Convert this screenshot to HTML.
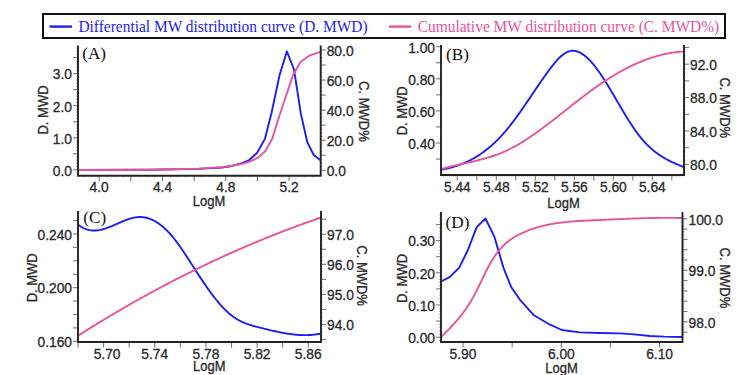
<!DOCTYPE html>
<html><head><meta charset="utf-8"><style>
html,body{margin:0;padding:0;background:#fff;overflow:hidden;}
svg{display:block;}
</style></head><body>
<svg width="750" height="375" viewBox="0 0 750 375">
<rect width="750" height="375" fill="#fff"/>
<clipPath id="c7845"><rect x="78" y="41.5" width="242.7" height="134.2"/></clipPath>
<g clip-path="url(#c7845)" fill="none" stroke-width="1.9" stroke-linejoin="round" stroke-linecap="round">
<path d="M76.00,170.00 L150.00,169.70 L198.00,168.90 L222.00,167.50 L230.00,166.30 L242.00,163.10 L249.20,160.00 L257.20,152.80 L264.90,138.90 L271.50,113.00 L279.60,75.00 L286.90,51.40 L294.00,69.50 L300.90,113.90 L307.30,142.20 L313.70,155.00 L320.50,160.20 L323.00,161.00" stroke="#1d1df4"/>
<path d="M76.00,170.00 L150.00,169.70 L174.00,169.30 L198.00,168.60 L214.00,167.60 L222.00,167.00 L230.00,166.20 L240.00,164.30 L249.20,161.90 L258.00,157.60 L265.20,151.20 L272.40,138.40 L278.00,120.00 L285.60,97.30 L293.10,74.90 L300.50,62.10 L309.10,55.70 L323.00,51.20" stroke="#e8539e"/>
</g>
<g stroke="#7a7a7a" stroke-width="1.1">
<line x1="73" y1="169.80" x2="78" y2="169.80"/>
<line x1="73" y1="137.75" x2="78" y2="137.75"/>
<line x1="73" y1="105.70" x2="78" y2="105.70"/>
<line x1="73" y1="73.65" x2="78" y2="73.65"/>
<line x1="73" y1="153.78" x2="78" y2="153.78"/>
<line x1="73" y1="121.73" x2="78" y2="121.73"/>
<line x1="73" y1="89.68" x2="78" y2="89.68"/>
<line x1="73" y1="57.63" x2="78" y2="57.63"/>
<line x1="320.7" y1="170.30" x2="325.7" y2="170.30"/>
<line x1="320.7" y1="140.22" x2="325.7" y2="140.22"/>
<line x1="320.7" y1="110.14" x2="325.7" y2="110.14"/>
<line x1="320.7" y1="80.06" x2="325.7" y2="80.06"/>
<line x1="320.7" y1="49.98" x2="325.7" y2="49.98"/>
<line x1="320.7" y1="155.26" x2="325.7" y2="155.26"/>
<line x1="320.7" y1="125.18" x2="325.7" y2="125.18"/>
<line x1="320.7" y1="95.10" x2="325.7" y2="95.10"/>
<line x1="320.7" y1="65.02" x2="325.7" y2="65.02"/>
<line x1="99.20" y1="175.7" x2="99.20" y2="181.29999999999998"/>
<line x1="162.50" y1="175.7" x2="162.50" y2="181.29999999999998"/>
<line x1="225.80" y1="175.7" x2="225.80" y2="181.29999999999998"/>
<line x1="289.10" y1="175.7" x2="289.10" y2="181.29999999999998"/>
<line x1="130.85" y1="175.7" x2="130.85" y2="181.29999999999998"/>
<line x1="194.15" y1="175.7" x2="194.15" y2="181.29999999999998"/>
<line x1="257.45" y1="175.7" x2="257.45" y2="181.29999999999998"/>
</g>
<g stroke="#b0b0b0" stroke-width="1">
<line x1="320.7" y1="174.06" x2="322.5" y2="174.06"/>
<line x1="320.7" y1="166.54" x2="322.5" y2="166.54"/>
<line x1="320.7" y1="162.78" x2="322.5" y2="162.78"/>
<line x1="320.7" y1="159.02" x2="322.5" y2="159.02"/>
<line x1="320.7" y1="151.50" x2="322.5" y2="151.50"/>
<line x1="320.7" y1="147.74" x2="322.5" y2="147.74"/>
<line x1="320.7" y1="143.98" x2="322.5" y2="143.98"/>
<line x1="320.7" y1="136.46" x2="322.5" y2="136.46"/>
<line x1="320.7" y1="132.70" x2="322.5" y2="132.70"/>
<line x1="320.7" y1="128.94" x2="322.5" y2="128.94"/>
<line x1="320.7" y1="121.42" x2="322.5" y2="121.42"/>
<line x1="320.7" y1="117.66" x2="322.5" y2="117.66"/>
<line x1="320.7" y1="113.90" x2="322.5" y2="113.90"/>
<line x1="320.7" y1="106.38" x2="322.5" y2="106.38"/>
<line x1="320.7" y1="102.62" x2="322.5" y2="102.62"/>
<line x1="320.7" y1="98.86" x2="322.5" y2="98.86"/>
<line x1="320.7" y1="91.34" x2="322.5" y2="91.34"/>
<line x1="320.7" y1="87.58" x2="322.5" y2="87.58"/>
<line x1="320.7" y1="83.82" x2="322.5" y2="83.82"/>
<line x1="320.7" y1="76.30" x2="322.5" y2="76.30"/>
<line x1="320.7" y1="72.54" x2="322.5" y2="72.54"/>
<line x1="320.7" y1="68.78" x2="322.5" y2="68.78"/>
<line x1="320.7" y1="61.26" x2="322.5" y2="61.26"/>
<line x1="320.7" y1="57.50" x2="322.5" y2="57.50"/>
<line x1="320.7" y1="53.74" x2="322.5" y2="53.74"/>
<line x1="76" y1="173.01" x2="78" y2="173.01"/>
<line x1="76" y1="166.59" x2="78" y2="166.59"/>
<line x1="76" y1="163.39" x2="78" y2="163.39"/>
<line x1="76" y1="160.19" x2="78" y2="160.19"/>
<line x1="76" y1="156.98" x2="78" y2="156.98"/>
<line x1="76" y1="150.57" x2="78" y2="150.57"/>
<line x1="76" y1="147.37" x2="78" y2="147.37"/>
<line x1="76" y1="144.16" x2="78" y2="144.16"/>
<line x1="76" y1="140.96" x2="78" y2="140.96"/>
<line x1="76" y1="134.55" x2="78" y2="134.55"/>
<line x1="76" y1="131.34" x2="78" y2="131.34"/>
<line x1="76" y1="128.14" x2="78" y2="128.14"/>
<line x1="76" y1="124.93" x2="78" y2="124.93"/>
<line x1="76" y1="118.52" x2="78" y2="118.52"/>
<line x1="76" y1="115.32" x2="78" y2="115.32"/>
<line x1="76" y1="112.11" x2="78" y2="112.11"/>
<line x1="76" y1="108.91" x2="78" y2="108.91"/>
<line x1="76" y1="102.50" x2="78" y2="102.50"/>
<line x1="76" y1="99.29" x2="78" y2="99.29"/>
<line x1="76" y1="96.09" x2="78" y2="96.09"/>
<line x1="76" y1="92.88" x2="78" y2="92.88"/>
<line x1="76" y1="86.47" x2="78" y2="86.47"/>
<line x1="76" y1="83.27" x2="78" y2="83.27"/>
<line x1="76" y1="80.06" x2="78" y2="80.06"/>
<line x1="76" y1="76.86" x2="78" y2="76.86"/>
<line x1="76" y1="70.45" x2="78" y2="70.45"/>
<line x1="76" y1="67.24" x2="78" y2="67.24"/>
<line x1="76" y1="64.04" x2="78" y2="64.04"/>
<line x1="76" y1="60.83" x2="78" y2="60.83"/>
<line x1="76" y1="54.42" x2="78" y2="54.42"/>
<line x1="76" y1="51.22" x2="78" y2="51.22"/>
<line x1="76" y1="48.01" x2="78" y2="48.01"/>
<line x1="83.37" y1="175.7" x2="83.37" y2="177.5"/>
<line x1="91.29" y1="175.7" x2="91.29" y2="177.5"/>
<line x1="107.11" y1="175.7" x2="107.11" y2="177.5"/>
<line x1="115.02" y1="175.7" x2="115.02" y2="177.5"/>
<line x1="122.94" y1="175.7" x2="122.94" y2="177.5"/>
<line x1="138.76" y1="175.7" x2="138.76" y2="177.5"/>
<line x1="146.67" y1="175.7" x2="146.67" y2="177.5"/>
<line x1="154.59" y1="175.7" x2="154.59" y2="177.5"/>
<line x1="170.41" y1="175.7" x2="170.41" y2="177.5"/>
<line x1="178.32" y1="175.7" x2="178.32" y2="177.5"/>
<line x1="186.24" y1="175.7" x2="186.24" y2="177.5"/>
<line x1="202.06" y1="175.7" x2="202.06" y2="177.5"/>
<line x1="209.98" y1="175.7" x2="209.98" y2="177.5"/>
<line x1="217.89" y1="175.7" x2="217.89" y2="177.5"/>
<line x1="233.71" y1="175.7" x2="233.71" y2="177.5"/>
<line x1="241.63" y1="175.7" x2="241.63" y2="177.5"/>
<line x1="249.54" y1="175.7" x2="249.54" y2="177.5"/>
<line x1="265.36" y1="175.7" x2="265.36" y2="177.5"/>
<line x1="273.27" y1="175.7" x2="273.27" y2="177.5"/>
<line x1="281.19" y1="175.7" x2="281.19" y2="177.5"/>
<line x1="297.01" y1="175.7" x2="297.01" y2="177.5"/>
<line x1="304.93" y1="175.7" x2="304.93" y2="177.5"/>
<line x1="312.84" y1="175.7" x2="312.84" y2="177.5"/>
</g>
<path d="M78,45.5 L78,175.7 L320.7,175.7 L320.7,45.5" fill="none" stroke="#232323" stroke-width="1.9" stroke-linejoin="miter"/>
<text transform="translate(72.00,175.60)" text-anchor="end" font-family="'Liberation Sans', sans-serif" font-size="13.8" fill="#2b2b2b" stroke="#2b2b2b" stroke-width="0.3">0.0</text>
<text transform="translate(72.00,143.55)" text-anchor="end" font-family="'Liberation Sans', sans-serif" font-size="13.8" fill="#2b2b2b" stroke="#2b2b2b" stroke-width="0.3">1.0</text>
<text transform="translate(72.00,111.50)" text-anchor="end" font-family="'Liberation Sans', sans-serif" font-size="13.8" fill="#2b2b2b" stroke="#2b2b2b" stroke-width="0.3">2.0</text>
<text transform="translate(72.00,79.45)" text-anchor="end" font-family="'Liberation Sans', sans-serif" font-size="13.8" fill="#2b2b2b" stroke="#2b2b2b" stroke-width="0.3">3.0</text>
<text transform="translate(326.70,176.10)" text-anchor="start" font-family="'Liberation Sans', sans-serif" font-size="13.8" fill="#2b2b2b" stroke="#2b2b2b" stroke-width="0.3">0.0</text>
<text transform="translate(326.70,146.02)" text-anchor="start" font-family="'Liberation Sans', sans-serif" font-size="13.8" fill="#2b2b2b" stroke="#2b2b2b" stroke-width="0.3">20.0</text>
<text transform="translate(326.70,115.94)" text-anchor="start" font-family="'Liberation Sans', sans-serif" font-size="13.8" fill="#2b2b2b" stroke="#2b2b2b" stroke-width="0.3">40.0</text>
<text transform="translate(326.70,85.86)" text-anchor="start" font-family="'Liberation Sans', sans-serif" font-size="13.8" fill="#2b2b2b" stroke="#2b2b2b" stroke-width="0.3">60.0</text>
<text transform="translate(326.70,55.78)" text-anchor="start" font-family="'Liberation Sans', sans-serif" font-size="13.8" fill="#2b2b2b" stroke="#2b2b2b" stroke-width="0.3">80.0</text>
<text transform="translate(99.20,192.30)" text-anchor="middle" font-family="'Liberation Sans', sans-serif" font-size="13.8" fill="#2b2b2b" stroke="#2b2b2b" stroke-width="0.3">4.0</text>
<text transform="translate(162.50,192.30)" text-anchor="middle" font-family="'Liberation Sans', sans-serif" font-size="13.8" fill="#2b2b2b" stroke="#2b2b2b" stroke-width="0.3">4.4</text>
<text transform="translate(225.80,192.30)" text-anchor="middle" font-family="'Liberation Sans', sans-serif" font-size="13.8" fill="#2b2b2b" stroke="#2b2b2b" stroke-width="0.3">4.8</text>
<text transform="translate(289.10,192.30)" text-anchor="middle" font-family="'Liberation Sans', sans-serif" font-size="13.8" fill="#2b2b2b" stroke="#2b2b2b" stroke-width="0.3">5.2</text>
<text transform="translate(47.50,110.00) rotate(-90) scale(1,1.12)" text-anchor="middle" font-family="'Liberation Sans', sans-serif" font-size="13.0" fill="#2b2b2b" stroke="#2b2b2b" stroke-width="0.3">D. MWD</text>
<text transform="translate(358.80,111.40) rotate(90) scale(1,1.12)" text-anchor="middle" font-family="'Liberation Sans', sans-serif" font-size="13.0" fill="#2b2b2b" stroke="#2b2b2b" stroke-width="0.3">C. MWD%</text>
<text transform="translate(209.00,205.80) scale(1,1.12)" text-anchor="middle" font-family="'Liberation Sans', sans-serif" font-size="13.0" fill="#2b2b2b" stroke="#2b2b2b" stroke-width="0.3">LogM</text>
<text transform="translate(82.20,59.00)" text-anchor="start" font-family="'Liberation Serif', serif" font-size="17.2" fill="#111">(A)</text>
<clipPath id="c44145"><rect x="441" y="41" width="243" height="134"/></clipPath>
<g clip-path="url(#c44145)" fill="none" stroke-width="1.9" stroke-linejoin="round" stroke-linecap="round">
<path d="M439.00,169.97 L440.00,169.82 L441.00,169.66 L442.00,169.49 L443.00,169.31 L444.00,169.12 L445.00,168.92 L446.00,168.72 L447.00,168.50 L448.00,168.27 L449.00,168.04 L450.00,167.79 L451.00,167.53 L452.00,167.26 L453.00,166.98 L454.00,166.69 L455.00,166.39 L456.00,166.07 L457.00,165.75 L458.00,165.41 L459.00,165.06 L460.00,164.69 L461.00,164.32 L462.00,163.93 L463.00,163.52 L464.00,163.11 L465.00,162.68 L466.00,162.23 L467.00,161.77 L468.00,161.30 L469.00,160.81 L470.00,160.31 L471.00,159.80 L472.00,159.26 L473.00,158.72 L474.00,158.15 L475.00,157.57 L476.00,156.98 L477.00,156.37 L478.00,155.74 L479.00,155.10 L480.00,154.44 L481.00,153.76 L482.00,153.06 L483.00,152.35 L484.00,151.62 L485.00,150.87 L486.00,150.10 L487.00,149.32 L488.00,148.52 L489.00,147.69 L490.00,146.85 L491.00,145.99 L492.00,145.11 L493.00,144.21 L494.00,143.29 L495.00,142.35 L496.00,141.39 L497.00,140.41 L498.00,139.41 L499.00,138.39 L500.00,137.35 L501.00,136.28 L502.00,135.20 L503.00,134.09 L504.00,132.96 L505.00,131.81 L506.00,130.63 L507.00,129.44 L508.00,128.22 L509.00,126.98 L510.00,125.72 L511.00,124.44 L512.00,123.14 L513.00,121.83 L514.00,120.50 L515.00,119.15 L516.00,117.79 L517.00,116.42 L518.00,115.03 L519.00,113.63 L520.00,112.22 L521.00,110.80 L522.00,109.37 L523.00,107.93 L524.00,106.48 L525.00,105.02 L526.00,103.56 L527.00,102.10 L528.00,100.63 L529.00,99.15 L530.00,97.67 L531.00,96.20 L532.00,94.72 L533.00,93.24 L534.00,91.76 L535.00,90.28 L536.00,88.81 L537.00,87.34 L538.00,85.87 L539.00,84.41 L540.00,82.96 L541.00,81.51 L542.00,80.07 L543.00,78.64 L544.00,77.22 L545.00,75.80 L546.00,74.40 L547.00,73.02 L548.00,71.64 L549.00,70.28 L550.00,68.93 L551.00,67.61 L552.00,66.31 L553.00,65.03 L554.00,63.79 L555.00,62.58 L556.00,61.40 L557.00,60.28 L558.00,59.20 L559.00,58.16 L560.00,57.19 L561.00,56.27 L562.00,55.41 L563.00,54.62 L564.00,53.90 L565.00,53.25 L566.00,52.68 L567.00,52.17 L568.00,51.74 L569.00,51.39 L570.00,51.12 L571.00,50.92 L572.00,50.81 L573.00,50.78 L574.00,50.82 L575.00,50.94 L576.00,51.13 L577.00,51.39 L578.00,51.73 L579.00,52.13 L580.00,52.60 L581.00,53.13 L582.00,53.73 L583.00,54.39 L584.00,55.11 L585.00,55.89 L586.00,56.72 L587.00,57.61 L588.00,58.55 L589.00,59.54 L590.00,60.58 L591.00,61.67 L592.00,62.80 L593.00,63.98 L594.00,65.20 L595.00,66.46 L596.00,67.76 L597.00,69.10 L598.00,70.47 L599.00,71.88 L600.00,73.31 L601.00,74.78 L602.00,76.28 L603.00,77.80 L604.00,79.35 L605.00,80.91 L606.00,82.51 L607.00,84.12 L608.00,85.74 L609.00,87.39 L610.00,89.05 L611.00,90.72 L612.00,92.40 L613.00,94.09 L614.00,95.78 L615.00,97.49 L616.00,99.19 L617.00,100.90 L618.00,102.61 L619.00,104.32 L620.00,106.02 L621.00,107.72 L622.00,109.41 L623.00,111.10 L624.00,112.77 L625.00,114.43 L626.00,116.08 L627.00,117.71 L628.00,119.32 L629.00,120.92 L630.00,122.49 L631.00,124.04 L632.00,125.57 L633.00,127.07 L634.00,128.55 L635.00,129.99 L636.00,131.40 L637.00,132.78 L638.00,134.13 L639.00,135.43 L640.00,136.70 L641.00,137.94 L642.00,139.13 L643.00,140.29 L644.00,141.42 L645.00,142.51 L646.00,143.57 L647.00,144.59 L648.00,145.58 L649.00,146.55 L650.00,147.48 L651.00,148.38 L652.00,149.25 L653.00,150.10 L654.00,150.92 L655.00,151.71 L656.00,152.48 L657.00,153.23 L658.00,153.95 L659.00,154.65 L660.00,155.32 L661.00,155.98 L662.00,156.61 L663.00,157.23 L664.00,157.82 L665.00,158.40 L666.00,158.97 L667.00,159.51 L668.00,160.04 L669.00,160.56 L670.00,161.06 L671.00,161.56 L672.00,162.03 L673.00,162.50 L674.00,162.96 L675.00,163.41 L676.00,163.84 L677.00,164.28 L678.00,164.70 L679.00,165.12 L680.00,165.53 L681.00,165.94 L682.00,166.34 L683.00,166.75 L684.00,167.15 L685.00,167.54 L686.00,167.94" stroke="#1d1df4"/>
<path d="M439.00,169.81 L440.50,169.35 L442.00,168.91 L443.50,168.47 L445.00,168.06 L446.50,167.65 L448.00,167.26 L449.50,166.88 L451.00,166.50 L452.50,166.14 L454.00,165.78 L455.50,165.43 L457.00,165.08 L458.50,164.74 L460.00,164.41 L461.50,164.07 L463.00,163.74 L464.50,163.41 L466.00,163.07 L467.50,162.74 L469.00,162.40 L470.50,162.07 L472.00,161.72 L473.50,161.38 L475.00,161.02 L476.50,160.66 L478.00,160.29 L479.50,159.92 L481.00,159.53 L482.50,159.14 L484.00,158.73 L485.50,158.31 L487.00,157.88 L488.50,157.43 L490.00,156.97 L491.50,156.50 L493.00,156.00 L494.50,155.49 L496.00,154.97 L497.50,154.42 L499.00,153.85 L500.50,153.26 L502.00,152.65 L503.50,152.01 L505.00,151.36 L506.50,150.67 L508.00,149.97 L509.50,149.23 L511.00,148.48 L512.50,147.70 L514.00,146.90 L515.50,146.07 L517.00,145.23 L518.50,144.36 L520.00,143.48 L521.50,142.57 L523.00,141.65 L524.50,140.71 L526.00,139.75 L527.50,138.77 L529.00,137.78 L530.50,136.77 L532.00,135.75 L533.50,134.71 L535.00,133.66 L536.50,132.60 L538.00,131.52 L539.50,130.43 L541.00,129.33 L542.50,128.23 L544.00,127.11 L545.50,125.98 L547.00,124.84 L548.50,123.70 L550.00,122.55 L551.50,121.39 L553.00,120.23 L554.50,119.06 L556.00,117.88 L557.50,116.70 L559.00,115.52 L560.50,114.34 L562.00,113.15 L563.50,111.97 L565.00,110.78 L566.50,109.59 L568.00,108.40 L569.50,107.21 L571.00,106.03 L572.50,104.85 L574.00,103.67 L575.50,102.49 L577.00,101.32 L578.50,100.15 L580.00,98.99 L581.50,97.83 L583.00,96.69 L584.50,95.54 L586.00,94.41 L587.50,93.29 L589.00,92.17 L590.50,91.07 L592.00,89.97 L593.50,88.89 L595.00,87.82 L596.50,86.76 L598.00,85.72 L599.50,84.68 L601.00,83.66 L602.50,82.65 L604.00,81.65 L605.50,80.67 L607.00,79.70 L608.50,78.74 L610.00,77.80 L611.50,76.87 L613.00,75.95 L614.50,75.05 L616.00,74.16 L617.50,73.29 L619.00,72.43 L620.50,71.59 L622.00,70.76 L623.50,69.94 L625.00,69.14 L626.50,68.36 L628.00,67.59 L629.50,66.84 L631.00,66.10 L632.50,65.38 L634.00,64.67 L635.50,63.99 L637.00,63.31 L638.50,62.66 L640.00,62.02 L641.50,61.40 L643.00,60.80 L644.50,60.21 L646.00,59.64 L647.50,59.09 L649.00,58.55 L650.50,58.04 L652.00,57.54 L653.50,57.06 L655.00,56.60 L656.50,56.16 L658.00,55.74 L659.50,55.33 L661.00,54.95 L662.50,54.58 L664.00,54.24 L665.50,53.91 L667.00,53.60 L668.50,53.32 L670.00,53.05 L671.50,52.81 L673.00,52.58 L674.50,52.38 L676.00,52.19 L677.50,52.03 L679.00,51.89 L680.50,51.77 L682.00,51.67 L683.50,51.60 L685.00,51.54" stroke="#e8539e"/>
</g>
<g stroke="#7a7a7a" stroke-width="1.1">
<line x1="436" y1="143.00" x2="441" y2="143.00"/>
<line x1="436" y1="110.90" x2="441" y2="110.90"/>
<line x1="436" y1="78.80" x2="441" y2="78.80"/>
<line x1="436" y1="46.70" x2="441" y2="46.70"/>
<line x1="436" y1="159.05" x2="441" y2="159.05"/>
<line x1="436" y1="126.95" x2="441" y2="126.95"/>
<line x1="436" y1="94.85" x2="441" y2="94.85"/>
<line x1="436" y1="62.75" x2="441" y2="62.75"/>
<line x1="684" y1="164.40" x2="689" y2="164.40"/>
<line x1="684" y1="131.00" x2="689" y2="131.00"/>
<line x1="684" y1="97.60" x2="689" y2="97.60"/>
<line x1="684" y1="64.20" x2="689" y2="64.20"/>
<line x1="684" y1="147.70" x2="689" y2="147.70"/>
<line x1="684" y1="114.30" x2="689" y2="114.30"/>
<line x1="684" y1="80.90" x2="689" y2="80.90"/>
<line x1="684" y1="47.50" x2="689" y2="47.50"/>
<line x1="457.30" y1="175" x2="457.30" y2="180.6"/>
<line x1="496.30" y1="175" x2="496.30" y2="180.6"/>
<line x1="535.30" y1="175" x2="535.30" y2="180.6"/>
<line x1="574.30" y1="175" x2="574.30" y2="180.6"/>
<line x1="613.30" y1="175" x2="613.30" y2="180.6"/>
<line x1="652.30" y1="175" x2="652.30" y2="180.6"/>
<line x1="476.80" y1="175" x2="476.80" y2="180.6"/>
<line x1="515.80" y1="175" x2="515.80" y2="180.6"/>
<line x1="554.80" y1="175" x2="554.80" y2="180.6"/>
<line x1="593.80" y1="175" x2="593.80" y2="180.6"/>
<line x1="632.80" y1="175" x2="632.80" y2="180.6"/>
<line x1="671.80" y1="175" x2="671.80" y2="180.6"/>
</g>
<g stroke="#cfcfcf" stroke-width="1">
<line x1="684" y1="172.75" x2="686.0" y2="172.75"/>
<line x1="684" y1="168.58" x2="686.0" y2="168.58"/>
<line x1="684" y1="160.22" x2="686.0" y2="160.22"/>
<line x1="684" y1="156.05" x2="686.0" y2="156.05"/>
<line x1="684" y1="151.88" x2="686.0" y2="151.88"/>
<line x1="684" y1="143.53" x2="686.0" y2="143.53"/>
<line x1="684" y1="139.35" x2="686.0" y2="139.35"/>
<line x1="684" y1="135.18" x2="686.0" y2="135.18"/>
<line x1="684" y1="126.83" x2="686.0" y2="126.83"/>
<line x1="684" y1="122.65" x2="686.0" y2="122.65"/>
<line x1="684" y1="118.48" x2="686.0" y2="118.48"/>
<line x1="684" y1="110.12" x2="686.0" y2="110.12"/>
<line x1="684" y1="105.95" x2="686.0" y2="105.95"/>
<line x1="684" y1="101.78" x2="686.0" y2="101.78"/>
<line x1="684" y1="93.43" x2="686.0" y2="93.43"/>
<line x1="684" y1="89.25" x2="686.0" y2="89.25"/>
<line x1="684" y1="85.08" x2="686.0" y2="85.08"/>
<line x1="684" y1="76.73" x2="686.0" y2="76.73"/>
<line x1="684" y1="72.55" x2="686.0" y2="72.55"/>
<line x1="684" y1="68.38" x2="686.0" y2="68.38"/>
<line x1="684" y1="60.03" x2="686.0" y2="60.03"/>
<line x1="684" y1="55.85" x2="686.0" y2="55.85"/>
<line x1="684" y1="51.68" x2="686.0" y2="51.68"/>
<line x1="443.65" y1="175" x2="443.65" y2="177.0"/>
<line x1="445.60" y1="175" x2="445.60" y2="177.0"/>
<line x1="447.55" y1="175" x2="447.55" y2="177.0"/>
<line x1="449.50" y1="175" x2="449.50" y2="177.0"/>
<line x1="451.45" y1="175" x2="451.45" y2="177.0"/>
<line x1="453.40" y1="175" x2="453.40" y2="177.0"/>
<line x1="455.35" y1="175" x2="455.35" y2="177.0"/>
<line x1="459.25" y1="175" x2="459.25" y2="177.0"/>
<line x1="461.20" y1="175" x2="461.20" y2="177.0"/>
<line x1="463.15" y1="175" x2="463.15" y2="177.0"/>
<line x1="465.10" y1="175" x2="465.10" y2="177.0"/>
<line x1="467.05" y1="175" x2="467.05" y2="177.0"/>
<line x1="469.00" y1="175" x2="469.00" y2="177.0"/>
<line x1="470.95" y1="175" x2="470.95" y2="177.0"/>
<line x1="472.90" y1="175" x2="472.90" y2="177.0"/>
<line x1="474.85" y1="175" x2="474.85" y2="177.0"/>
<line x1="478.75" y1="175" x2="478.75" y2="177.0"/>
<line x1="480.70" y1="175" x2="480.70" y2="177.0"/>
<line x1="482.65" y1="175" x2="482.65" y2="177.0"/>
<line x1="484.60" y1="175" x2="484.60" y2="177.0"/>
<line x1="486.55" y1="175" x2="486.55" y2="177.0"/>
<line x1="488.50" y1="175" x2="488.50" y2="177.0"/>
<line x1="490.45" y1="175" x2="490.45" y2="177.0"/>
<line x1="492.40" y1="175" x2="492.40" y2="177.0"/>
<line x1="494.35" y1="175" x2="494.35" y2="177.0"/>
<line x1="498.25" y1="175" x2="498.25" y2="177.0"/>
<line x1="500.20" y1="175" x2="500.20" y2="177.0"/>
<line x1="502.15" y1="175" x2="502.15" y2="177.0"/>
<line x1="504.10" y1="175" x2="504.10" y2="177.0"/>
<line x1="506.05" y1="175" x2="506.05" y2="177.0"/>
<line x1="508.00" y1="175" x2="508.00" y2="177.0"/>
<line x1="509.95" y1="175" x2="509.95" y2="177.0"/>
<line x1="511.90" y1="175" x2="511.90" y2="177.0"/>
<line x1="513.85" y1="175" x2="513.85" y2="177.0"/>
<line x1="517.75" y1="175" x2="517.75" y2="177.0"/>
<line x1="519.70" y1="175" x2="519.70" y2="177.0"/>
<line x1="521.65" y1="175" x2="521.65" y2="177.0"/>
<line x1="523.60" y1="175" x2="523.60" y2="177.0"/>
<line x1="525.55" y1="175" x2="525.55" y2="177.0"/>
<line x1="527.50" y1="175" x2="527.50" y2="177.0"/>
<line x1="529.45" y1="175" x2="529.45" y2="177.0"/>
<line x1="531.40" y1="175" x2="531.40" y2="177.0"/>
<line x1="533.35" y1="175" x2="533.35" y2="177.0"/>
<line x1="537.25" y1="175" x2="537.25" y2="177.0"/>
<line x1="539.20" y1="175" x2="539.20" y2="177.0"/>
<line x1="541.15" y1="175" x2="541.15" y2="177.0"/>
<line x1="543.10" y1="175" x2="543.10" y2="177.0"/>
<line x1="545.05" y1="175" x2="545.05" y2="177.0"/>
<line x1="547.00" y1="175" x2="547.00" y2="177.0"/>
<line x1="548.95" y1="175" x2="548.95" y2="177.0"/>
<line x1="550.90" y1="175" x2="550.90" y2="177.0"/>
<line x1="552.85" y1="175" x2="552.85" y2="177.0"/>
<line x1="556.75" y1="175" x2="556.75" y2="177.0"/>
<line x1="558.70" y1="175" x2="558.70" y2="177.0"/>
<line x1="560.65" y1="175" x2="560.65" y2="177.0"/>
<line x1="562.60" y1="175" x2="562.60" y2="177.0"/>
<line x1="564.55" y1="175" x2="564.55" y2="177.0"/>
<line x1="566.50" y1="175" x2="566.50" y2="177.0"/>
<line x1="568.45" y1="175" x2="568.45" y2="177.0"/>
<line x1="570.40" y1="175" x2="570.40" y2="177.0"/>
<line x1="572.35" y1="175" x2="572.35" y2="177.0"/>
<line x1="576.25" y1="175" x2="576.25" y2="177.0"/>
<line x1="578.20" y1="175" x2="578.20" y2="177.0"/>
<line x1="580.15" y1="175" x2="580.15" y2="177.0"/>
<line x1="582.10" y1="175" x2="582.10" y2="177.0"/>
<line x1="584.05" y1="175" x2="584.05" y2="177.0"/>
<line x1="586.00" y1="175" x2="586.00" y2="177.0"/>
<line x1="587.95" y1="175" x2="587.95" y2="177.0"/>
<line x1="589.90" y1="175" x2="589.90" y2="177.0"/>
<line x1="591.85" y1="175" x2="591.85" y2="177.0"/>
<line x1="595.75" y1="175" x2="595.75" y2="177.0"/>
<line x1="597.70" y1="175" x2="597.70" y2="177.0"/>
<line x1="599.65" y1="175" x2="599.65" y2="177.0"/>
<line x1="601.60" y1="175" x2="601.60" y2="177.0"/>
<line x1="603.55" y1="175" x2="603.55" y2="177.0"/>
<line x1="605.50" y1="175" x2="605.50" y2="177.0"/>
<line x1="607.45" y1="175" x2="607.45" y2="177.0"/>
<line x1="609.40" y1="175" x2="609.40" y2="177.0"/>
<line x1="611.35" y1="175" x2="611.35" y2="177.0"/>
<line x1="615.25" y1="175" x2="615.25" y2="177.0"/>
<line x1="617.20" y1="175" x2="617.20" y2="177.0"/>
<line x1="619.15" y1="175" x2="619.15" y2="177.0"/>
<line x1="621.10" y1="175" x2="621.10" y2="177.0"/>
<line x1="623.05" y1="175" x2="623.05" y2="177.0"/>
<line x1="625.00" y1="175" x2="625.00" y2="177.0"/>
<line x1="626.95" y1="175" x2="626.95" y2="177.0"/>
<line x1="628.90" y1="175" x2="628.90" y2="177.0"/>
<line x1="630.85" y1="175" x2="630.85" y2="177.0"/>
<line x1="634.75" y1="175" x2="634.75" y2="177.0"/>
<line x1="636.70" y1="175" x2="636.70" y2="177.0"/>
<line x1="638.65" y1="175" x2="638.65" y2="177.0"/>
<line x1="640.60" y1="175" x2="640.60" y2="177.0"/>
<line x1="642.55" y1="175" x2="642.55" y2="177.0"/>
<line x1="644.50" y1="175" x2="644.50" y2="177.0"/>
<line x1="646.45" y1="175" x2="646.45" y2="177.0"/>
<line x1="648.40" y1="175" x2="648.40" y2="177.0"/>
<line x1="650.35" y1="175" x2="650.35" y2="177.0"/>
<line x1="654.25" y1="175" x2="654.25" y2="177.0"/>
<line x1="656.20" y1="175" x2="656.20" y2="177.0"/>
<line x1="658.15" y1="175" x2="658.15" y2="177.0"/>
<line x1="660.10" y1="175" x2="660.10" y2="177.0"/>
<line x1="662.05" y1="175" x2="662.05" y2="177.0"/>
<line x1="664.00" y1="175" x2="664.00" y2="177.0"/>
<line x1="665.95" y1="175" x2="665.95" y2="177.0"/>
<line x1="667.90" y1="175" x2="667.90" y2="177.0"/>
<line x1="669.85" y1="175" x2="669.85" y2="177.0"/>
<line x1="673.75" y1="175" x2="673.75" y2="177.0"/>
<line x1="675.70" y1="175" x2="675.70" y2="177.0"/>
<line x1="677.65" y1="175" x2="677.65" y2="177.0"/>
<line x1="679.60" y1="175" x2="679.60" y2="177.0"/>
<line x1="681.55" y1="175" x2="681.55" y2="177.0"/>
</g>
<path d="M441,45 L441,175 L684,175 L684,45" fill="none" stroke="#232323" stroke-width="1.9" stroke-linejoin="miter"/>
<text transform="translate(435.00,148.80)" text-anchor="end" font-family="'Liberation Sans', sans-serif" font-size="13.8" fill="#2b2b2b" stroke="#2b2b2b" stroke-width="0.3">0.40</text>
<text transform="translate(435.00,116.70)" text-anchor="end" font-family="'Liberation Sans', sans-serif" font-size="13.8" fill="#2b2b2b" stroke="#2b2b2b" stroke-width="0.3">0.60</text>
<text transform="translate(435.00,84.60)" text-anchor="end" font-family="'Liberation Sans', sans-serif" font-size="13.8" fill="#2b2b2b" stroke="#2b2b2b" stroke-width="0.3">0.80</text>
<text transform="translate(435.00,52.50)" text-anchor="end" font-family="'Liberation Sans', sans-serif" font-size="13.8" fill="#2b2b2b" stroke="#2b2b2b" stroke-width="0.3">1.00</text>
<text transform="translate(690.00,170.20)" text-anchor="start" font-family="'Liberation Sans', sans-serif" font-size="13.8" fill="#2b2b2b" stroke="#2b2b2b" stroke-width="0.3">80.0</text>
<text transform="translate(690.00,136.80)" text-anchor="start" font-family="'Liberation Sans', sans-serif" font-size="13.8" fill="#2b2b2b" stroke="#2b2b2b" stroke-width="0.3">84.0</text>
<text transform="translate(690.00,103.40)" text-anchor="start" font-family="'Liberation Sans', sans-serif" font-size="13.8" fill="#2b2b2b" stroke="#2b2b2b" stroke-width="0.3">88.0</text>
<text transform="translate(690.00,70.00)" text-anchor="start" font-family="'Liberation Sans', sans-serif" font-size="13.8" fill="#2b2b2b" stroke="#2b2b2b" stroke-width="0.3">92.0</text>
<text transform="translate(457.30,191.60)" text-anchor="middle" font-family="'Liberation Sans', sans-serif" font-size="13.8" fill="#2b2b2b" stroke="#2b2b2b" stroke-width="0.3">5.44</text>
<text transform="translate(496.30,191.60)" text-anchor="middle" font-family="'Liberation Sans', sans-serif" font-size="13.8" fill="#2b2b2b" stroke="#2b2b2b" stroke-width="0.3">5.48</text>
<text transform="translate(535.30,191.60)" text-anchor="middle" font-family="'Liberation Sans', sans-serif" font-size="13.8" fill="#2b2b2b" stroke="#2b2b2b" stroke-width="0.3">5.52</text>
<text transform="translate(574.30,191.60)" text-anchor="middle" font-family="'Liberation Sans', sans-serif" font-size="13.8" fill="#2b2b2b" stroke="#2b2b2b" stroke-width="0.3">5.56</text>
<text transform="translate(613.30,191.60)" text-anchor="middle" font-family="'Liberation Sans', sans-serif" font-size="13.8" fill="#2b2b2b" stroke="#2b2b2b" stroke-width="0.3">5.60</text>
<text transform="translate(652.30,191.60)" text-anchor="middle" font-family="'Liberation Sans', sans-serif" font-size="13.8" fill="#2b2b2b" stroke="#2b2b2b" stroke-width="0.3">5.64</text>
<text transform="translate(406.80,110.80) rotate(-90) scale(1,1.12)" text-anchor="middle" font-family="'Liberation Sans', sans-serif" font-size="13.0" fill="#2b2b2b" stroke="#2b2b2b" stroke-width="0.3">D. MWD</text>
<text transform="translate(719.70,107.80) rotate(90) scale(1,1.12)" text-anchor="middle" font-family="'Liberation Sans', sans-serif" font-size="13.0" fill="#2b2b2b" stroke="#2b2b2b" stroke-width="0.3">C. MWD%</text>
<text transform="translate(563.60,208.20) scale(1,1.12)" text-anchor="middle" font-family="'Liberation Sans', sans-serif" font-size="13.0" fill="#2b2b2b" stroke="#2b2b2b" stroke-width="0.3">LogM</text>
<text transform="translate(446.00,59.50)" text-anchor="start" font-family="'Liberation Serif', serif" font-size="17.2" fill="#111">(B)</text>
<clipPath id="c78211"><rect x="78" y="207" width="243" height="135"/></clipPath>
<g clip-path="url(#c78211)" fill="none" stroke-width="1.9" stroke-linejoin="round" stroke-linecap="round">
<path d="M76.00,222.63 L77.00,223.56 L78.00,224.41 L79.00,225.21 L80.00,225.94 L81.00,226.61 L82.00,227.22 L83.00,227.78 L84.00,228.28 L85.00,228.72 L86.00,229.11 L87.00,229.45 L88.00,229.74 L89.00,229.98 L90.00,230.18 L91.00,230.33 L92.00,230.43 L93.00,230.50 L94.00,230.52 L95.00,230.51 L96.00,230.46 L97.00,230.38 L98.00,230.26 L99.00,230.11 L100.00,229.93 L101.00,229.72 L102.00,229.49 L103.00,229.23 L104.00,228.94 L105.00,228.63 L106.00,228.31 L107.00,227.96 L108.00,227.60 L109.00,227.22 L110.00,226.83 L111.00,226.43 L112.00,226.01 L113.00,225.59 L114.00,225.16 L115.00,224.72 L116.00,224.28 L117.00,223.84 L118.00,223.40 L119.00,222.96 L120.00,222.53 L121.00,222.09 L122.00,221.67 L123.00,221.25 L124.00,220.85 L125.00,220.45 L126.00,220.07 L127.00,219.70 L128.00,219.35 L129.00,219.02 L130.00,218.70 L131.00,218.41 L132.00,218.14 L133.00,217.90 L134.00,217.69 L135.00,217.50 L136.00,217.34 L137.00,217.21 L138.00,217.12 L139.00,217.06 L140.00,217.04 L141.00,217.06 L142.00,217.12 L143.00,217.21 L144.00,217.34 L145.00,217.51 L146.00,217.71 L147.00,217.96 L148.00,218.24 L149.00,218.55 L150.00,218.91 L151.00,219.30 L152.00,219.73 L153.00,220.20 L154.00,220.70 L155.00,221.24 L156.00,221.82 L157.00,222.43 L158.00,223.08 L159.00,223.77 L160.00,224.50 L161.00,225.26 L162.00,226.06 L163.00,226.89 L164.00,227.76 L165.00,228.67 L166.00,229.62 L167.00,230.60 L168.00,231.62 L169.00,232.67 L170.00,233.76 L171.00,234.89 L172.00,236.05 L173.00,237.25 L174.00,238.48 L175.00,239.75 L176.00,241.05 L177.00,242.39 L178.00,243.75 L179.00,245.13 L180.00,246.55 L181.00,247.98 L182.00,249.44 L183.00,250.92 L184.00,252.41 L185.00,253.92 L186.00,255.44 L187.00,256.98 L188.00,258.52 L189.00,260.07 L190.00,261.63 L191.00,263.19 L192.00,264.76 L193.00,266.32 L194.00,267.88 L195.00,269.44 L196.00,270.99 L197.00,272.54 L198.00,274.08 L199.00,275.61 L200.00,277.13 L201.00,278.64 L202.00,280.14 L203.00,281.63 L204.00,283.10 L205.00,284.57 L206.00,286.01 L207.00,287.45 L208.00,288.86 L209.00,290.26 L210.00,291.64 L211.00,293.01 L212.00,294.35 L213.00,295.67 L214.00,296.97 L215.00,298.25 L216.00,299.51 L217.00,300.74 L218.00,301.95 L219.00,303.13 L220.00,304.29 L221.00,305.42 L222.00,306.52 L223.00,307.59 L224.00,308.63 L225.00,309.64 L226.00,310.62 L227.00,311.57 L228.00,312.48 L229.00,313.36 L230.00,314.20 L231.00,315.01 L232.00,315.79 L233.00,316.52 L234.00,317.23 L235.00,317.90 L236.00,318.55 L237.00,319.16 L238.00,319.74 L239.00,320.30 L240.00,320.83 L241.00,321.33 L242.00,321.82 L243.00,322.27 L244.00,322.71 L245.00,323.13 L246.00,323.53 L247.00,323.90 L248.00,324.27 L249.00,324.61 L250.00,324.94 L251.00,325.26 L252.00,325.57 L253.00,325.86 L254.00,326.14 L255.00,326.42 L256.00,326.69 L257.00,326.95 L258.00,327.20 L259.00,327.45 L260.00,327.70 L261.00,327.95 L262.00,328.19 L263.00,328.44 L264.00,328.68 L265.00,328.92 L266.00,329.17 L267.00,329.41 L268.00,329.65 L269.00,329.88 L270.00,330.12 L271.00,330.35 L272.00,330.58 L273.00,330.81 L274.00,331.04 L275.00,331.26 L276.00,331.48 L277.00,331.69 L278.00,331.90 L279.00,332.11 L280.00,332.31 L281.00,332.51 L282.00,332.70 L283.00,332.88 L284.00,333.07 L285.00,333.24 L286.00,333.41 L287.00,333.57 L288.00,333.73 L289.00,333.88 L290.00,334.02 L291.00,334.16 L292.00,334.28 L293.00,334.40 L294.00,334.51 L295.00,334.62 L296.00,334.71 L297.00,334.80 L298.00,334.88 L299.00,334.94 L300.00,335.00 L301.00,335.05 L302.00,335.09 L303.00,335.11 L304.00,335.13 L305.00,335.14 L306.00,335.13 L307.00,335.12 L308.00,335.09 L309.00,335.05 L310.00,335.00 L311.00,334.93 L312.00,334.86 L313.00,334.77 L314.00,334.67 L315.00,334.55 L316.00,334.42 L317.00,334.28 L318.00,334.12 L319.00,333.95 L320.00,333.76 L321.00,333.56 L322.00,333.34 L323.00,333.11" stroke="#1d1df4"/>
<path d="M76.00,336.94 L77.50,335.98 L79.00,335.03 L80.50,334.08 L82.00,333.14 L83.50,332.20 L85.00,331.26 L86.50,330.32 L88.00,329.38 L89.50,328.45 L91.00,327.52 L92.50,326.60 L94.00,325.67 L95.50,324.75 L97.00,323.83 L98.50,322.92 L100.00,322.01 L101.50,321.10 L103.00,320.19 L104.50,319.29 L106.00,318.39 L107.50,317.49 L109.00,316.59 L110.50,315.70 L112.00,314.81 L113.50,313.92 L115.00,313.04 L116.50,312.16 L118.00,311.28 L119.50,310.40 L121.00,309.53 L122.50,308.66 L124.00,307.79 L125.50,306.92 L127.00,306.06 L128.50,305.20 L130.00,304.34 L131.50,303.49 L133.00,302.64 L134.50,301.79 L136.00,300.95 L137.50,300.10 L139.00,299.26 L140.50,298.43 L142.00,297.59 L143.50,296.76 L145.00,295.93 L146.50,295.10 L148.00,294.28 L149.50,293.46 L151.00,292.64 L152.50,291.82 L154.00,291.01 L155.50,290.20 L157.00,289.40 L158.50,288.59 L160.00,287.79 L161.50,286.99 L163.00,286.19 L164.50,285.40 L166.00,284.61 L167.50,283.82 L169.00,283.04 L170.50,282.26 L172.00,281.48 L173.50,280.70 L175.00,279.92 L176.50,279.15 L178.00,278.38 L179.50,277.62 L181.00,276.86 L182.50,276.09 L184.00,275.34 L185.50,274.58 L187.00,273.83 L188.50,273.08 L190.00,272.33 L191.50,271.59 L193.00,270.85 L194.50,270.11 L196.00,269.37 L197.50,268.64 L199.00,267.91 L200.50,267.18 L202.00,266.46 L203.50,265.73 L205.00,265.02 L206.50,264.30 L208.00,263.58 L209.50,262.87 L211.00,262.16 L212.50,261.46 L214.00,260.76 L215.50,260.05 L217.00,259.36 L218.50,258.66 L220.00,257.97 L221.50,257.28 L223.00,256.59 L224.50,255.91 L226.00,255.23 L227.50,254.55 L229.00,253.87 L230.50,253.20 L232.00,252.53 L233.50,251.86 L235.00,251.19 L236.50,250.53 L238.00,249.87 L239.50,249.22 L241.00,248.56 L242.50,247.91 L244.00,247.26 L245.50,246.61 L247.00,245.97 L248.50,245.33 L250.00,244.69 L251.50,244.06 L253.00,243.42 L254.50,242.79 L256.00,242.16 L257.50,241.54 L259.00,240.92 L260.50,240.30 L262.00,239.68 L263.50,239.07 L265.00,238.46 L266.50,237.85 L268.00,237.24 L269.50,236.64 L271.00,236.04 L272.50,235.44 L274.00,234.84 L275.50,234.25 L277.00,233.66 L278.50,233.07 L280.00,232.49 L281.50,231.91 L283.00,231.33 L284.50,230.75 L286.00,230.18 L287.50,229.61 L289.00,229.04 L290.50,228.47 L292.00,227.91 L293.50,227.35 L295.00,226.79 L296.50,226.24 L298.00,225.68 L299.50,225.13 L301.00,224.59 L302.50,224.04 L304.00,223.50 L305.50,222.96 L307.00,222.42 L308.50,221.89 L310.00,221.36 L311.50,220.83 L313.00,220.30 L314.50,219.78 L316.00,219.26 L317.50,218.74 L319.00,218.23 L320.50,217.72 L322.00,217.21" stroke="#e8539e"/>
</g>
<g stroke="#7a7a7a" stroke-width="1.1">
<line x1="73" y1="341.30" x2="78" y2="341.30"/>
<line x1="73" y1="287.65" x2="78" y2="287.65"/>
<line x1="73" y1="234.00" x2="78" y2="234.00"/>
<line x1="73" y1="327.89" x2="78" y2="327.89"/>
<line x1="73" y1="314.48" x2="78" y2="314.48"/>
<line x1="73" y1="301.06" x2="78" y2="301.06"/>
<line x1="73" y1="274.24" x2="78" y2="274.24"/>
<line x1="73" y1="260.82" x2="78" y2="260.82"/>
<line x1="73" y1="247.41" x2="78" y2="247.41"/>
<line x1="73" y1="220.59" x2="78" y2="220.59"/>
<line x1="321" y1="324.50" x2="326" y2="324.50"/>
<line x1="321" y1="294.40" x2="326" y2="294.40"/>
<line x1="321" y1="264.30" x2="326" y2="264.30"/>
<line x1="321" y1="234.20" x2="326" y2="234.20"/>
<line x1="321" y1="339.55" x2="326" y2="339.55"/>
<line x1="321" y1="309.45" x2="326" y2="309.45"/>
<line x1="321" y1="279.35" x2="326" y2="279.35"/>
<line x1="321" y1="249.25" x2="326" y2="249.25"/>
<line x1="321" y1="219.15" x2="326" y2="219.15"/>
<line x1="103.60" y1="342" x2="103.60" y2="347.6"/>
<line x1="154.76" y1="342" x2="154.76" y2="347.6"/>
<line x1="205.92" y1="342" x2="205.92" y2="347.6"/>
<line x1="257.08" y1="342" x2="257.08" y2="347.6"/>
<line x1="308.24" y1="342" x2="308.24" y2="347.6"/>
<line x1="78.02" y1="342" x2="78.02" y2="347.6"/>
<line x1="129.18" y1="342" x2="129.18" y2="347.6"/>
<line x1="180.34" y1="342" x2="180.34" y2="347.6"/>
<line x1="231.50" y1="342" x2="231.50" y2="347.6"/>
<line x1="282.66" y1="342" x2="282.66" y2="347.6"/>
</g>
<g stroke="#b0b0b0" stroke-width="1">
<line x1="321" y1="335.79" x2="322.8" y2="335.79"/>
<line x1="321" y1="332.02" x2="322.8" y2="332.02"/>
<line x1="321" y1="328.26" x2="322.8" y2="328.26"/>
<line x1="321" y1="320.74" x2="322.8" y2="320.74"/>
<line x1="321" y1="316.98" x2="322.8" y2="316.98"/>
<line x1="321" y1="313.21" x2="322.8" y2="313.21"/>
<line x1="321" y1="305.69" x2="322.8" y2="305.69"/>
<line x1="321" y1="301.93" x2="322.8" y2="301.93"/>
<line x1="321" y1="298.16" x2="322.8" y2="298.16"/>
<line x1="321" y1="290.64" x2="322.8" y2="290.64"/>
<line x1="321" y1="286.88" x2="322.8" y2="286.88"/>
<line x1="321" y1="283.11" x2="322.8" y2="283.11"/>
<line x1="321" y1="275.59" x2="322.8" y2="275.59"/>
<line x1="321" y1="271.82" x2="322.8" y2="271.82"/>
<line x1="321" y1="268.06" x2="322.8" y2="268.06"/>
<line x1="321" y1="260.54" x2="322.8" y2="260.54"/>
<line x1="321" y1="256.77" x2="322.8" y2="256.77"/>
<line x1="321" y1="253.01" x2="322.8" y2="253.01"/>
<line x1="321" y1="245.49" x2="322.8" y2="245.49"/>
<line x1="321" y1="241.72" x2="322.8" y2="241.72"/>
<line x1="321" y1="237.96" x2="322.8" y2="237.96"/>
<line x1="321" y1="230.44" x2="322.8" y2="230.44"/>
<line x1="321" y1="226.67" x2="322.8" y2="226.67"/>
<line x1="321" y1="222.91" x2="322.8" y2="222.91"/>
</g>
<path d="M78,211 L78,342 L321,342 L321,211" fill="none" stroke="#232323" stroke-width="1.9" stroke-linejoin="miter"/>
<text transform="translate(72.00,347.10)" text-anchor="end" font-family="'Liberation Sans', sans-serif" font-size="13.8" fill="#2b2b2b" stroke="#2b2b2b" stroke-width="0.3">0.160</text>
<text transform="translate(72.00,293.45)" text-anchor="end" font-family="'Liberation Sans', sans-serif" font-size="13.8" fill="#2b2b2b" stroke="#2b2b2b" stroke-width="0.3">0.200</text>
<text transform="translate(72.00,239.80)" text-anchor="end" font-family="'Liberation Sans', sans-serif" font-size="13.8" fill="#2b2b2b" stroke="#2b2b2b" stroke-width="0.3">0.240</text>
<text transform="translate(327.00,330.30)" text-anchor="start" font-family="'Liberation Sans', sans-serif" font-size="13.8" fill="#2b2b2b" stroke="#2b2b2b" stroke-width="0.3">94.0</text>
<text transform="translate(327.00,300.20)" text-anchor="start" font-family="'Liberation Sans', sans-serif" font-size="13.8" fill="#2b2b2b" stroke="#2b2b2b" stroke-width="0.3">95.0</text>
<text transform="translate(327.00,270.10)" text-anchor="start" font-family="'Liberation Sans', sans-serif" font-size="13.8" fill="#2b2b2b" stroke="#2b2b2b" stroke-width="0.3">96.0</text>
<text transform="translate(327.00,240.00)" text-anchor="start" font-family="'Liberation Sans', sans-serif" font-size="13.8" fill="#2b2b2b" stroke="#2b2b2b" stroke-width="0.3">97.0</text>
<text transform="translate(107.10,358.60)" text-anchor="middle" font-family="'Liberation Sans', sans-serif" font-size="13.8" fill="#2b2b2b" stroke="#2b2b2b" stroke-width="0.3">5.70</text>
<text transform="translate(154.76,358.60)" text-anchor="middle" font-family="'Liberation Sans', sans-serif" font-size="13.8" fill="#2b2b2b" stroke="#2b2b2b" stroke-width="0.3">5.74</text>
<text transform="translate(205.92,358.60)" text-anchor="middle" font-family="'Liberation Sans', sans-serif" font-size="13.8" fill="#2b2b2b" stroke="#2b2b2b" stroke-width="0.3">5.78</text>
<text transform="translate(257.08,358.60)" text-anchor="middle" font-family="'Liberation Sans', sans-serif" font-size="13.8" fill="#2b2b2b" stroke="#2b2b2b" stroke-width="0.3">5.82</text>
<text transform="translate(308.24,358.60)" text-anchor="middle" font-family="'Liberation Sans', sans-serif" font-size="13.8" fill="#2b2b2b" stroke="#2b2b2b" stroke-width="0.3">5.86</text>
<text transform="translate(36.70,277.80) rotate(-90) scale(1,1.12)" text-anchor="middle" font-family="'Liberation Sans', sans-serif" font-size="13.0" fill="#2b2b2b" stroke="#2b2b2b" stroke-width="0.3">D. MWD</text>
<text transform="translate(357.30,275.60) rotate(90) scale(1,1.12)" text-anchor="middle" font-family="'Liberation Sans', sans-serif" font-size="13.0" fill="#2b2b2b" stroke="#2b2b2b" stroke-width="0.3">C. MWD%</text>
<text transform="translate(209.20,371.00) scale(1,1.12)" text-anchor="middle" font-family="'Liberation Sans', sans-serif" font-size="13.0" fill="#2b2b2b" stroke="#2b2b2b" stroke-width="0.3">LogM</text>
<text transform="translate(83.20,222.50)" text-anchor="start" font-family="'Liberation Serif', serif" font-size="17.2" fill="#111">(C)</text>
<clipPath id="c441212"><rect x="441" y="208" width="241.5" height="134"/></clipPath>
<g clip-path="url(#c441212)" fill="none" stroke-width="1.9" stroke-linejoin="round" stroke-linecap="round">
<path d="M439.00,282.40 L441.10,281.50 L449.60,277.20 L459.20,267.60 L467.70,250.50 L476.70,227.10 L485.40,218.50 L494.40,236.70 L503.30,267.30 L511.30,287.30 L520.70,300.70 L534.00,315.30 L550.00,324.70 L562.00,330.00 L580.00,332.40 L600.00,333.00 L620.00,333.40 L634.00,334.40 L650.00,336.00 L664.00,336.60 L685.00,337.00" stroke="#1d1df4"/>
<path d="M439.00,339.07 L440.00,338.06 L441.00,337.07 L442.00,336.07 L443.00,335.08 L444.00,334.09 L445.00,333.10 L446.00,332.10 L447.00,331.10 L448.00,330.10 L449.00,329.08 L450.00,328.06 L451.00,327.02 L452.00,325.97 L453.00,324.90 L454.00,323.81 L455.00,322.71 L456.00,321.58 L457.00,320.43 L458.00,319.26 L459.00,318.06 L460.00,316.83 L461.00,315.57 L462.00,314.28 L463.00,312.95 L464.00,311.59 L465.00,310.19 L466.00,308.75 L467.00,307.27 L468.00,305.75 L469.00,304.19 L470.00,302.57 L471.00,300.91 L472.00,299.20 L473.00,297.44 L474.00,295.62 L475.00,293.75 L476.00,291.82 L477.00,289.85 L478.00,287.84 L479.00,285.80 L480.00,283.75 L481.00,281.67 L482.00,279.60 L483.00,277.53 L484.00,275.47 L485.00,273.43 L486.00,271.43 L487.00,269.46 L488.00,267.53 L489.00,265.66 L490.00,263.86 L491.00,262.12 L492.00,260.44 L493.00,258.83 L494.00,257.29 L495.00,255.80 L496.00,254.38 L497.00,253.01 L498.00,251.70 L499.00,250.45 L500.00,249.25 L501.00,248.11 L502.00,247.02 L503.00,245.97 L504.00,244.98 L505.00,244.03 L506.00,243.13 L507.00,242.26 L508.00,241.44 L509.00,240.66 L510.00,239.91 L511.00,239.19 L512.00,238.51 L513.00,237.86 L514.00,237.24 L515.00,236.65 L516.00,236.08 L517.00,235.53 L518.00,235.00 L519.00,234.50 L520.00,234.01 L521.00,233.53 L522.00,233.07 L523.00,232.63 L524.00,232.19 L525.00,231.76 L526.00,231.35 L527.00,230.95 L528.00,230.55 L529.00,230.17 L530.00,229.80 L531.00,229.44 L532.00,229.09 L533.00,228.75 L534.00,228.41 L535.00,228.09 L536.00,227.78 L537.00,227.48 L538.00,227.18 L539.00,226.90 L540.00,226.62 L541.00,226.36 L542.00,226.10 L543.00,225.85 L544.00,225.61 L545.00,225.37 L546.00,225.15 L547.00,224.93 L548.00,224.72 L549.00,224.51 L550.00,224.31 L551.00,224.13 L552.00,223.94 L553.00,223.77 L554.00,223.60 L555.00,223.43 L556.00,223.28 L557.00,223.13 L558.00,222.98 L559.00,222.84 L560.00,222.71 L561.00,222.58 L562.00,222.45 L563.00,222.34 L564.00,222.22 L565.00,222.11 L566.00,222.01 L567.00,221.91 L568.00,221.81 L569.00,221.72 L570.00,221.63 L571.00,221.55 L572.00,221.47 L573.00,221.39 L574.00,221.32 L575.00,221.25 L576.00,221.18 L577.00,221.11 L578.00,221.05 L579.00,220.99 L580.00,220.93 L581.00,220.88 L582.00,220.82 L583.00,220.77 L584.00,220.72 L585.00,220.67 L586.00,220.62 L587.00,220.57 L588.00,220.53 L589.00,220.48 L590.00,220.44 L591.00,220.39 L592.00,220.35 L593.00,220.30 L594.00,220.26 L595.00,220.21 L596.00,220.17 L597.00,220.12 L598.00,220.08 L599.00,220.03 L600.00,219.99 L601.00,219.94 L602.00,219.90 L603.00,219.85 L604.00,219.80 L605.00,219.76 L606.00,219.71 L607.00,219.67 L608.00,219.62 L609.00,219.57 L610.00,219.53 L611.00,219.48 L612.00,219.44 L613.00,219.39 L614.00,219.35 L615.00,219.30 L616.00,219.26 L617.00,219.21 L618.00,219.17 L619.00,219.13 L620.00,219.08 L621.00,219.04 L622.00,219.00 L623.00,218.95 L624.00,218.91 L625.00,218.87 L626.00,218.83 L627.00,218.79 L628.00,218.75 L629.00,218.71 L630.00,218.67 L631.00,218.63 L632.00,218.60 L633.00,218.56 L634.00,218.52 L635.00,218.49 L636.00,218.45 L637.00,218.42 L638.00,218.39 L639.00,218.35 L640.00,218.32 L641.00,218.29 L642.00,218.26 L643.00,218.23 L644.00,218.20 L645.00,218.17 L646.00,218.15 L647.00,218.12 L648.00,218.10 L649.00,218.07 L650.00,218.05 L651.00,218.03 L652.00,218.01 L653.00,217.99 L654.00,217.97 L655.00,217.96 L656.00,217.94 L657.00,217.93 L658.00,217.91 L659.00,217.90 L660.00,217.89 L661.00,217.88 L662.00,217.87 L663.00,217.87 L664.00,217.86 L665.00,217.86 L666.00,217.85 L667.00,217.85 L668.00,217.85 L669.00,217.85 L670.00,217.86 L671.00,217.86 L672.00,217.87 L673.00,217.88 L674.00,217.89 L675.00,217.90 L676.00,217.91 L677.00,217.92 L678.00,217.94 L679.00,217.96 L680.00,217.98 L681.00,218.00 L682.00,218.02 L683.00,218.05 L684.00,218.07 L685.00,218.10" stroke="#e8539e"/>
</g>
<g stroke="#7a7a7a" stroke-width="1.1">
<line x1="436" y1="337.20" x2="441" y2="337.20"/>
<line x1="436" y1="305.00" x2="441" y2="305.00"/>
<line x1="436" y1="272.80" x2="441" y2="272.80"/>
<line x1="436" y1="240.60" x2="441" y2="240.60"/>
<line x1="436" y1="321.10" x2="441" y2="321.10"/>
<line x1="436" y1="288.90" x2="441" y2="288.90"/>
<line x1="436" y1="256.70" x2="441" y2="256.70"/>
<line x1="436" y1="224.50" x2="441" y2="224.50"/>
<line x1="682.5" y1="321.80" x2="687.5" y2="321.80"/>
<line x1="682.5" y1="270.30" x2="687.5" y2="270.30"/>
<line x1="682.5" y1="218.80" x2="687.5" y2="218.80"/>
<line x1="682.5" y1="332.10" x2="687.5" y2="332.10"/>
<line x1="682.5" y1="311.50" x2="687.5" y2="311.50"/>
<line x1="682.5" y1="301.20" x2="687.5" y2="301.20"/>
<line x1="682.5" y1="290.90" x2="687.5" y2="290.90"/>
<line x1="682.5" y1="280.60" x2="687.5" y2="280.60"/>
<line x1="682.5" y1="260.00" x2="687.5" y2="260.00"/>
<line x1="682.5" y1="249.70" x2="687.5" y2="249.70"/>
<line x1="682.5" y1="239.40" x2="687.5" y2="239.40"/>
<line x1="682.5" y1="229.10" x2="687.5" y2="229.10"/>
<line x1="463.00" y1="342" x2="463.00" y2="347.6"/>
<line x1="561.30" y1="342" x2="561.30" y2="347.6"/>
<line x1="659.60" y1="342" x2="659.60" y2="347.6"/>
<line x1="512.15" y1="342" x2="512.15" y2="347.6"/>
<line x1="610.45" y1="342" x2="610.45" y2="347.6"/>
</g>
<g stroke="#b0b0b0" stroke-width="1">
<line x1="682.5" y1="334.68" x2="684.3" y2="334.68"/>
<line x1="682.5" y1="329.53" x2="684.3" y2="329.53"/>
<line x1="682.5" y1="326.95" x2="684.3" y2="326.95"/>
<line x1="682.5" y1="324.37" x2="684.3" y2="324.37"/>
<line x1="682.5" y1="319.23" x2="684.3" y2="319.23"/>
<line x1="682.5" y1="316.65" x2="684.3" y2="316.65"/>
<line x1="682.5" y1="314.07" x2="684.3" y2="314.07"/>
<line x1="682.5" y1="308.93" x2="684.3" y2="308.93"/>
<line x1="682.5" y1="306.35" x2="684.3" y2="306.35"/>
<line x1="682.5" y1="303.78" x2="684.3" y2="303.78"/>
<line x1="682.5" y1="298.62" x2="684.3" y2="298.62"/>
<line x1="682.5" y1="296.05" x2="684.3" y2="296.05"/>
<line x1="682.5" y1="293.48" x2="684.3" y2="293.48"/>
<line x1="682.5" y1="288.32" x2="684.3" y2="288.32"/>
<line x1="682.5" y1="285.75" x2="684.3" y2="285.75"/>
<line x1="682.5" y1="283.18" x2="684.3" y2="283.18"/>
<line x1="682.5" y1="278.03" x2="684.3" y2="278.03"/>
<line x1="682.5" y1="275.45" x2="684.3" y2="275.45"/>
<line x1="682.5" y1="272.87" x2="684.3" y2="272.87"/>
<line x1="682.5" y1="267.73" x2="684.3" y2="267.73"/>
<line x1="682.5" y1="265.15" x2="684.3" y2="265.15"/>
<line x1="682.5" y1="262.57" x2="684.3" y2="262.57"/>
<line x1="682.5" y1="257.43" x2="684.3" y2="257.43"/>
<line x1="682.5" y1="254.85" x2="684.3" y2="254.85"/>
<line x1="682.5" y1="252.28" x2="684.3" y2="252.28"/>
<line x1="682.5" y1="247.12" x2="684.3" y2="247.12"/>
<line x1="682.5" y1="244.55" x2="684.3" y2="244.55"/>
<line x1="682.5" y1="241.98" x2="684.3" y2="241.98"/>
<line x1="682.5" y1="236.82" x2="684.3" y2="236.82"/>
<line x1="682.5" y1="234.25" x2="684.3" y2="234.25"/>
<line x1="682.5" y1="231.68" x2="684.3" y2="231.68"/>
<line x1="682.5" y1="226.53" x2="684.3" y2="226.53"/>
<line x1="682.5" y1="223.95" x2="684.3" y2="223.95"/>
<line x1="682.5" y1="221.37" x2="684.3" y2="221.37"/>
<line x1="439" y1="340.42" x2="441" y2="340.42"/>
<line x1="439" y1="333.98" x2="441" y2="333.98"/>
<line x1="439" y1="330.76" x2="441" y2="330.76"/>
<line x1="439" y1="327.54" x2="441" y2="327.54"/>
<line x1="439" y1="324.32" x2="441" y2="324.32"/>
<line x1="439" y1="317.88" x2="441" y2="317.88"/>
<line x1="439" y1="314.66" x2="441" y2="314.66"/>
<line x1="439" y1="311.44" x2="441" y2="311.44"/>
<line x1="439" y1="308.22" x2="441" y2="308.22"/>
<line x1="439" y1="301.78" x2="441" y2="301.78"/>
<line x1="439" y1="298.56" x2="441" y2="298.56"/>
<line x1="439" y1="295.34" x2="441" y2="295.34"/>
<line x1="439" y1="292.12" x2="441" y2="292.12"/>
<line x1="439" y1="285.68" x2="441" y2="285.68"/>
<line x1="439" y1="282.46" x2="441" y2="282.46"/>
<line x1="439" y1="279.24" x2="441" y2="279.24"/>
<line x1="439" y1="276.02" x2="441" y2="276.02"/>
<line x1="439" y1="269.58" x2="441" y2="269.58"/>
<line x1="439" y1="266.36" x2="441" y2="266.36"/>
<line x1="439" y1="263.14" x2="441" y2="263.14"/>
<line x1="439" y1="259.92" x2="441" y2="259.92"/>
<line x1="439" y1="253.48" x2="441" y2="253.48"/>
<line x1="439" y1="250.26" x2="441" y2="250.26"/>
<line x1="439" y1="247.04" x2="441" y2="247.04"/>
<line x1="439" y1="243.82" x2="441" y2="243.82"/>
<line x1="439" y1="237.38" x2="441" y2="237.38"/>
<line x1="439" y1="234.16" x2="441" y2="234.16"/>
<line x1="439" y1="230.94" x2="441" y2="230.94"/>
<line x1="439" y1="227.72" x2="441" y2="227.72"/>
<line x1="439" y1="221.28" x2="441" y2="221.28"/>
<line x1="439" y1="218.06" x2="441" y2="218.06"/>
<line x1="439" y1="214.84" x2="441" y2="214.84"/>
</g>
<path d="M441,212 L441,342 L682.5,342 L682.5,212" fill="none" stroke="#232323" stroke-width="1.9" stroke-linejoin="miter"/>
<text transform="translate(435.00,343.00)" text-anchor="end" font-family="'Liberation Sans', sans-serif" font-size="13.8" fill="#2b2b2b" stroke="#2b2b2b" stroke-width="0.3">0.00</text>
<text transform="translate(435.00,310.80)" text-anchor="end" font-family="'Liberation Sans', sans-serif" font-size="13.8" fill="#2b2b2b" stroke="#2b2b2b" stroke-width="0.3">0.10</text>
<text transform="translate(435.00,278.60)" text-anchor="end" font-family="'Liberation Sans', sans-serif" font-size="13.8" fill="#2b2b2b" stroke="#2b2b2b" stroke-width="0.3">0.20</text>
<text transform="translate(435.00,246.40)" text-anchor="end" font-family="'Liberation Sans', sans-serif" font-size="13.8" fill="#2b2b2b" stroke="#2b2b2b" stroke-width="0.3">0.30</text>
<text transform="translate(688.50,327.60)" text-anchor="start" font-family="'Liberation Sans', sans-serif" font-size="13.8" fill="#2b2b2b" stroke="#2b2b2b" stroke-width="0.3">98.0</text>
<text transform="translate(688.50,276.10)" text-anchor="start" font-family="'Liberation Sans', sans-serif" font-size="13.8" fill="#2b2b2b" stroke="#2b2b2b" stroke-width="0.3">99.0</text>
<text transform="translate(688.50,224.60)" text-anchor="start" font-family="'Liberation Sans', sans-serif" font-size="13.8" fill="#2b2b2b" stroke="#2b2b2b" stroke-width="0.3">100.0</text>
<text transform="translate(463.00,359.10)" text-anchor="middle" font-family="'Liberation Sans', sans-serif" font-size="13.8" fill="#2b2b2b" stroke="#2b2b2b" stroke-width="0.3">5.90</text>
<text transform="translate(561.30,359.10)" text-anchor="middle" font-family="'Liberation Sans', sans-serif" font-size="13.8" fill="#2b2b2b" stroke="#2b2b2b" stroke-width="0.3">6.00</text>
<text transform="translate(659.60,359.10)" text-anchor="middle" font-family="'Liberation Sans', sans-serif" font-size="13.8" fill="#2b2b2b" stroke="#2b2b2b" stroke-width="0.3">6.10</text>
<text transform="translate(406.80,278.50) rotate(-90) scale(1,1.12)" text-anchor="middle" font-family="'Liberation Sans', sans-serif" font-size="13.0" fill="#2b2b2b" stroke="#2b2b2b" stroke-width="0.3">D. MWD</text>
<text transform="translate(720.40,277.90) rotate(90) scale(1,1.12)" text-anchor="middle" font-family="'Liberation Sans', sans-serif" font-size="13.0" fill="#2b2b2b" stroke="#2b2b2b" stroke-width="0.3">C. MWD%</text>
<text transform="translate(561.60,372.60) scale(1,1.12)" text-anchor="middle" font-family="'Liberation Sans', sans-serif" font-size="13.0" fill="#2b2b2b" stroke="#2b2b2b" stroke-width="0.3">LogM</text>
<text transform="translate(445.50,227.80)" text-anchor="start" font-family="'Liberation Serif', serif" font-size="17.2" fill="#111">(D)</text>
<rect x="43" y="14" width="682" height="24" fill="#fff" stroke="#111" stroke-width="2"/>
<line x1="49.5" y1="26.6" x2="72" y2="26.6" stroke="#1d1df4" stroke-width="2.4"/>
<text transform="translate(78.40,31.90) scale(1,1.06)" text-anchor="start" font-family="'Liberation Serif', serif" font-size="15.45" fill="#1d1df4">Differential MW distribution curve (D. MWD)</text>
<line x1="389" y1="26.6" x2="411" y2="26.6" stroke="#e8539e" stroke-width="2.4"/>
<text transform="translate(417.70,31.90) scale(1,1.06)" text-anchor="start" font-family="'Liberation Serif', serif" font-size="15.45" fill="#e8539e">Cumulative MW distribution curve (C. MWD%)</text>
</svg>
</body></html>
